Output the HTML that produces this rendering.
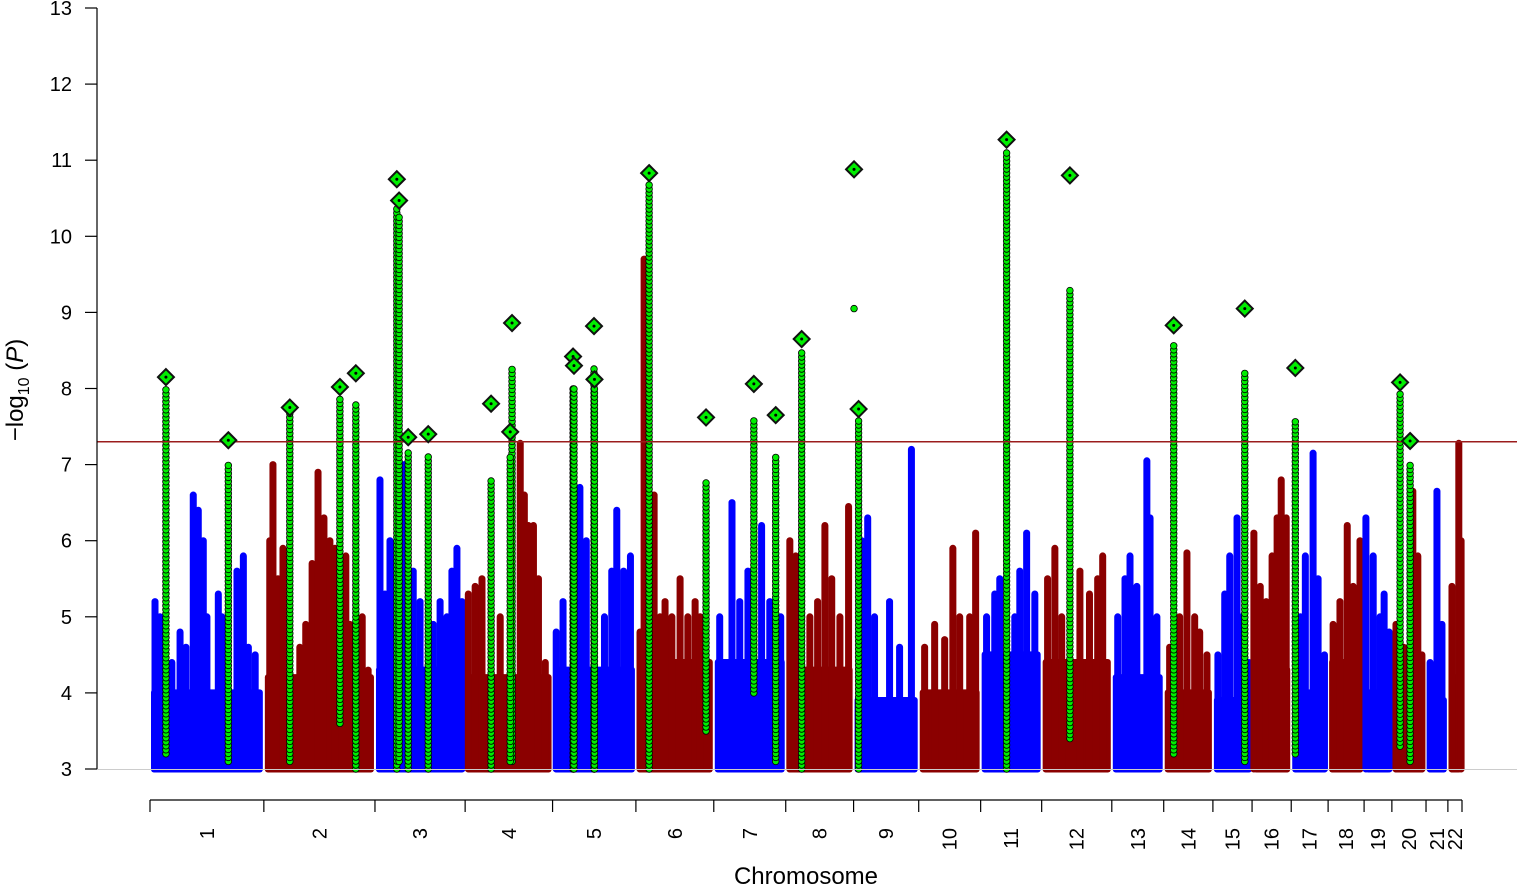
<!DOCTYPE html>
<html><head><meta charset="utf-8"><title>Manhattan plot</title>
<style>html,body{margin:0;padding:0;background:#fff}svg{display:block;font-family:"Liberation Sans",Arial,sans-serif}</style>
</head><body>
<svg id="chart" width="1517" height="886" viewBox="0 0 1517 886" xmlns="http://www.w3.org/2000/svg">
<g id="marks"></g>
<g id="axes"></g>
</svg>
<script>
const chrNames = ["1","2","3","4","5","6","7","8","9","10","11","12","13","14","15","16","17","18","19","20","21","22"];
const chrLengths = [250,244,198,192,183,171,158,149,143,136,134,154,114,108,86,86,81,79,61,75,48,31];
const baseTops = [4.0,4.2,4.3,4.2,4.3,4.4,4.4,4.3,3.9,4.0,4.5,4.4,4.2,4.0,3.9,4.3,4.0,4.4,4.0,4.0,3.9,4.2];
const spikes = [
 [[11,5.2],[22,5.0],[48,4.4],[66,4.8],[79,4.6],[95,6.6],[106,6.4],[117,6.0],[125,5.0],[150,5.3],[158,5.0],[191,5.6],[205,5.8],[216,4.6],[231,4.5]],
 [[13,6.0],[20,7.0],[31,5.5],[42,5.9],[79,4.6],[92,4.9],[106,5.7],[119,6.9],[132,6.3],[145,6.0],[156,5.9],[180,5.8],[189,4.9],[216,5.0],[229,4.3]],
 [[11,6.8],[22,5.3],[33,6.0],[64,7.0],[84,5.6],[99,5.2],[128,4.9],[143,5.2],[158,5.0],[169,5.6],[180,5.9],[191,5.2]],
 [[7,5.3],[22,5.4],[37,5.5],[77,5.0],[121,7.28],[130,6.6],[139,6.2],[150,6.2],[161,5.5],[176,4.4]],
 [[8,4.8],[23,5.2],[60,6.7],[74,6.0],[114,5.0],[130,5.6],[141,6.4],[156,5.6],[171,5.8]],
 [[9,4.8],[18,9.7],[40,6.6],[53,5.0],[64,5.2],[79,5.0],[97,5.5],[114,5.0],[130,5.2],[141,5.0]],
 [[13,5.0],[40,6.5],[57,5.2],[75,5.6],[105,6.2],[123,5.2],[147,5.0]],
 [[9,6.0],[22,5.8],[53,5.0],[70,5.2],[86,6.2],[101,5.5],[119,5.0],[138,6.45]],
 [[18,6.0],[31,6.3],[46,5.0],[79,5.2],[101,4.6],[127,7.2]],
 [[13,4.6],[35,4.9],[57,4.7],[75,5.9],[90,5.0],[112,5.0],[125,6.1]],
 [[13,5.0],[31,5.3],[42,5.5],[75,5.0],[86,5.6],[101,6.1],[119,5.3]],
 [[13,5.5],[29,5.9],[44,5.0],[84,5.6],[105,5.3],[123,5.5],[134,5.8]],
 [[13,5.0],[29,5.5],[40,5.8],[55,5.4],[77,7.05],[84,6.3],[99,5.0]],
 [[13,4.6],[35,5.0],[51,5.84],[68,5.0],[79,4.8],[95,4.5]],
 [[11,4.5],[26,5.3],[37,5.8],[53,6.3],[64,5.0],[79,4.4]],
 [[4,6.1],[18,5.4],[31,5.2],[44,5.8],[55,6.3],[64,6.8],[75,6.3]],
 [[20,5.0],[31,5.8],[48,7.15],[59,5.5],[73,4.5]],
 [[11,4.9],[26,5.2],[42,6.2],[55,5.4],[70,6.0]],
 [[4,6.3],[20,5.8],[35,5.0],[44,5.3],[55,4.8]],
 [[9,4.9],[26,4.6],[46,6.65],[57,5.8],[66,4.5]],
 [[9,4.4],[24,6.65],[35,4.9]],
 [[9,5.4],[24,7.28],[29,6.0]]
];
// hits: [chrIndex, posMb, leadValue, topOfColumn, bottomOfColumn]
const hits = [
 [0,35,8.15,8.0,3.2],[0,172,7.32,7.0,3.1],
 [1,57,7.75,7.7,3.1],[1,167,8.02,7.9,3.6],[1,202,8.2,7.8,3.0],
 [2,48,10.75,10.4,3.0],[2,53,10.47,10.3,3.1],[2,73,7.36,7.2,3.0],[2,117,7.4,7.15,3.0],
 [3,57,7.8,6.8,3.0],[3,103,8.86,8.3,3.1],[3,99,7.43,7.1,3.1],
 [4,45,8.42,8.0,3.0],[4,47,8.3,8.0,3.0],[4,91,8.82,8.3,3.0],[4,92,8.12,8.0,3.0],
 [5,29,10.83,10.7,3.0],[5,154,7.62,6.8,3.5],
 [6,88,8.06,7.6,4.0],[6,136,7.65,7.1,3.1],
 [7,35,8.65,8.5,3.0],
 [8,1,10.88,9.05,9.05],[8,11,7.73,7.6,3.0],
 [10,57,11.27,11.1,3.0],
 [11,62,10.8,9.3,3.4],
 [13,22,8.83,8.6,3.2],
 [14,70,9.05,8.25,3.1],
 [16,9,8.27,7.57,3.2],
 [19,18,8.08,7.95,3.3],[19,40,7.31,7.0,3.1]
];
const yTicks = [3,4,5,6,7,8,9,10,11,12,13];
const threshold = 7.3;

const NS = "http://www.w3.org/2000/svg";
const X0 = 150, X1 = 1462, Y3 = 769, Y13 = 8;
const total = chrLengths.reduce((a,b)=>a+b,0);
const starts = []; {let c=0; for (const l of chrLengths){starts.push(c); c+=l;}}
function xs(ci,pos){return X0 + (starts[ci]+pos)/total*(X1-X0);}
function ys(v){return Y3 - (v-3)/(13-3)*(Y3-Y13);}
function mk(tag,attrs,parent){const e=document.createElementNS(NS,tag);for(const k in attrs)e.setAttribute(k,attrs[k]);parent.appendChild(e);return e;}
const marks = document.getElementById('marks');
const axes = document.getElementById('axes');
const colors = ["#0000ff","#8b0000"];

chrNames.forEach((n,ci)=>{
  const g = mk('g',{},marks);
  
  
  const col = colors[ci%2];
  const xa = xs(ci,0)+1, xb = xs(ci,chrLengths[ci])-1;
  const r = mk('rect',{x:xa,y:ys(baseTops[ci])-3.5,width:Math.max(1,xb-xa),height:Y3-ys(baseTops[ci])+7,rx:3,fill:col},g);
  
  
  spikes[ci].forEach(s=>{
    const l = mk('line',{x1:xs(ci,s[0]),x2:xs(ci,s[0]),y1:Y3,y2:ys(s[1]),stroke:col,'stroke-width':7,'stroke-linecap':'round'},g);
    
    
  });
});
// green hit columns
hits.forEach(h=>{
  const g = mk('g',{},marks);
  
  
  const x = xs(h[0],h[1]);
  const yt = ys(h[3]), yb = ys(h[4]);
  for (let y=yb; y>=yt-0.01; y-=4){
    const c = mk('circle',{cx:x,cy:y,r:3.3,fill:'#00ee00',stroke:'#000','stroke-width':0.8},g);
    
    
  }
});
// threshold
const th = mk('line',{x1:97,x2:1517,y1:ys(threshold),y2:ys(threshold),stroke:'#9b1c1c','stroke-width':1.5},marks);


// baseline
const bl = mk('line',{x1:97,x2:1517,y1:Y3+0.5,y2:Y3+0.5,stroke:'#cccccc','stroke-width':1},marks);


// diamonds
hits.forEach(h=>{
  const x = xs(h[0],h[1]), y = ys(h[2]);
  const d = mk('polygon',{points:`${x},${y-8} ${x+8},${y} ${x},${y+8} ${x-8},${y}`,fill:'#00ee00',stroke:'#111','stroke-width':2},marks);
  
  
  const c = mk('circle',{cx:x,cy:y,r:1.5,fill:'#000'},marks);
  
  
});
// y axis
const ya = mk('line',{x1:97,x2:97,y1:Y13,y2:Y3,stroke:'#000','stroke-width':1.2},axes);


yTicks.forEach(t=>{
  const l = mk('line',{x1:85,x2:97,y1:ys(t),y2:ys(t),stroke:'#000','stroke-width':1.2},axes);
  
  
  const tx = mk('text',{x:72,y:ys(t)+7,'text-anchor':'end','font-size':20,fill:'#000'},axes);
  tx.textContent = t;
  
  
});
// x axis
const xa = mk('line',{x1:X0,x2:X1,y1:800,y2:800,stroke:'#000','stroke-width':1.2},axes);


for (let i=0;i<=chrNames.length;i++){
  const x = i<chrNames.length ? xs(i,0) : X1;
  const l = mk('line',{x1:x,x2:x,y1:800,y2:812,stroke:'#000','stroke-width':1.2},axes);
  
  
}
chrNames.forEach((n,ci)=>{
  const x = xs(ci,chrLengths[ci]/2);
  const t = mk('text',{x:0,y:0,'text-anchor':'end','font-size':20,fill:'#000',transform:`translate(${x+7},828) rotate(-90)`},axes);
  t.textContent = n;
  
  
});
</script>
<svg style="position:absolute;left:0;top:0" width="1517" height="886">
<text x="806" y="884" text-anchor="middle" font-size="24" font-family="Liberation Sans, sans-serif">Chromosome</text>
<text transform="translate(23,390) rotate(-90)" text-anchor="middle" font-size="24" font-family="Liberation Sans, sans-serif">−log<tspan font-size="16" dy="6">10</tspan><tspan dy="-6"> (</tspan><tspan font-style="italic">P</tspan>)</text>
</svg>
</body></html>
